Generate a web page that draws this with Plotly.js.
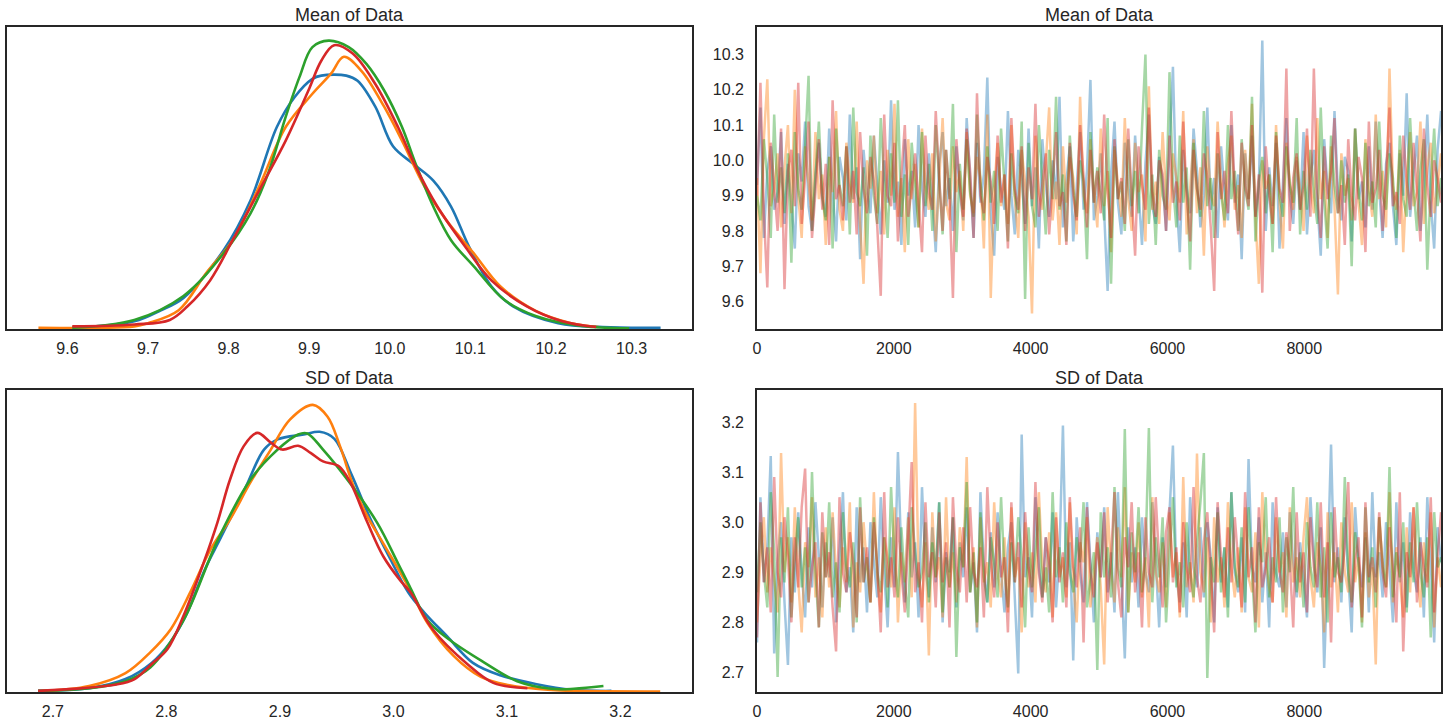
<!DOCTYPE html>
<html>
<head>
<meta charset="utf-8">
<script src="https://cdn.plot.ly/plotly-3.0.1.min.js"></script>
<style>html,body{margin:0;padding:0;background:#fff;}#chart{width:1448px;height:728px;}</style>
</head>
<body>
<div id="chart"></div>
<script>
// ---- Chain names and colours (tab10) ----
const chains = ["chain 0", "chain 1", "chain 2", "chain 3"];
const chainColors = ["#1f77b4", "#ff7f0e", "#2ca02c", "#d62728"];
const panelTitles = ["Mean of Data", "SD of Data"];

// ---- KDE of "Mean of Data" (value, density) per chain ----
const meanKdeX0 = [9.606,9.683,9.716,9.744,9.794,9.827,9.860,9.882,9.904,9.915,9.946,9.960,9.982,10.004,10.029,10.054,10.076,10.098,10.126,10.153,10.209,10.264,10.336];
const meanKdeY0 = [0.02,0.12,0.29,0.48,1.22,1.98,3.12,3.58,3.86,3.91,3.91,3.83,3.43,2.82,2.55,2.29,1.89,1.28,0.66,0.35,0.09,0.03,0.02];
const meanKdeX1 = [9.564,9.683,9.700,9.738,9.772,9.805,9.838,9.871,9.904,9.927,9.943,9.965,9.993,10.015,10.043,10.070,10.104,10.137,10.181,10.225,10.259];
const meanKdeY1 = [0.02,0.04,0.09,0.29,0.86,1.37,2.20,3.12,3.63,3.94,4.20,3.98,3.43,2.91,2.20,1.68,1.17,0.66,0.28,0.09,0.03];
const meanKdeX2 = [9.606,9.683,9.744,9.794,9.827,9.849,9.871,9.888,9.904,9.924,9.949,9.971,9.993,10.015,10.032,10.054,10.076,10.104,10.142,10.181,10.236,10.297];
const meanKdeY2 = [0.02,0.14,0.51,1.17,1.78,2.40,3.28,3.89,4.35,4.45,4.35,4.09,3.68,3.12,2.55,1.89,1.37,0.97,0.45,0.20,0.05,0.01];
const meanKdeX3 = [9.606,9.683,9.727,9.749,9.777,9.805,9.838,9.871,9.899,9.915,9.931,9.954,9.982,10.010,10.032,10.059,10.093,10.126,10.170,10.214,10.256];
const meanKdeY3 = [0.04,0.07,0.14,0.35,0.75,1.37,2.14,2.91,3.68,4.14,4.38,4.25,3.78,3.12,2.51,1.89,1.28,0.75,0.35,0.12,0.03];

// ---- KDE of "SD of Data" ----
const sdKdeX0 = [2.687,2.732,2.764,2.787,2.803,2.817,2.834,2.848,2.870,2.886,2.898,2.921,2.935,2.948,2.963,2.980,2.996,3.013,3.027,3.047,3.070,3.094,3.125,3.157,3.192];
const sdKdeY0 = [0.02,0.07,0.24,0.54,0.91,1.41,2.28,2.87,3.81,4.50,4.69,4.78,4.83,4.70,4.04,3.20,2.52,1.85,1.48,1.04,0.54,0.31,0.15,0.04,0.02];
const sdKdeX1 = [2.687,2.732,2.764,2.786,2.804,2.821,2.839,2.856,2.874,2.892,2.909,2.929,2.942,2.953,2.965,2.977,2.991,3.015,3.030,3.053,3.077,3.101,3.139,3.235];
const sdKdeY1 = [0.01,0.11,0.35,0.74,1.17,1.85,2.65,3.20,3.89,4.50,5.06,5.33,5.11,4.56,3.81,3.26,2.76,1.89,1.28,0.67,0.28,0.13,0.04,0.01];
const sdKdeX2 = [2.687,2.732,2.764,2.786,2.815,2.845,2.874,2.898,2.916,2.924,2.938,2.962,2.986,3.004,3.015,3.030,3.050,3.079,3.109,3.139,3.159,3.185];
const sdKdeY2 = [0.02,0.07,0.20,0.46,1.33,2.81,3.94,4.50,4.78,4.80,4.50,3.87,3.13,2.39,1.93,1.33,0.96,0.56,0.20,0.06,0.06,0.11];
const sdKdeX3 = [2.687,2.756,2.772,2.787,2.801,2.815,2.833,2.845,2.856,2.868,2.880,2.892,2.902,2.916,2.927,2.938,2.952,2.962,2.977,2.991,3.006,3.015,3.035,3.065,3.088,3.118];
const sdKdeY3 = [0.02,0.14,0.24,0.52,0.80,1.41,2.41,3.15,3.94,4.56,4.81,4.63,4.50,4.57,4.44,4.28,4.19,3.89,3.15,2.52,2.07,1.85,1.15,0.52,0.17,0.07];

// ---- Trace samples (thinned reading, one value every ~50 draws) ----
const drawStep = 50.25;
const meanTrace0 = [9.93,10.15,9.78,9.97,10.04,9.86,9.91,10.08,9.82,9.99,
9.88,9.75,10.02,9.94,10.11,9.87,9.80,9.96,10.05,9.90,
9.84,10.09,9.92,9.77,10.01,9.95,9.83,10.13,9.89,9.98,
9.72,10.03,9.91,9.85,10.07,9.93,9.79,10.00,9.88,10.17,
9.86,9.94,9.76,10.06,9.90,9.97,9.81,10.10,9.92,9.84,
10.02,9.89,9.74,9.99,10.08,9.87,9.95,9.80,10.04,9.91,
9.83,10.12,9.93,9.78,10.05,9.88,9.96,10.235,9.85,9.73,
10.01,9.92,9.86,10.14,9.90,9.79,10.03,9.95,9.82,10.09,
9.87,9.98,9.75,10.06,9.93,9.84,10.00,9.89,10.18,9.81,
9.94,10.04,9.77,9.91,10.08,9.86,9.97,10.228,9.83,9.90,
10.02,9.85,9.63,9.96,10.11,9.88,9.79,10.05,9.93,9.84,
10.07,9.91,9.76,9.99,10.13,9.87,9.82,10.01,9.94,9.80,
10.06,10.265,9.89,9.74,10.03,9.92,9.85,10.09,9.97,9.81,
9.90,10.15,9.86,9.95,9.78,10.04,9.91,9.83,10.10,9.88,
9.96,9.72,10.02,9.89,10.07,9.84,9.93,10.34,9.80,9.98,
9.87,10.05,9.75,9.94,10.12,9.90,9.82,10.00,9.86,10.08,
9.79,9.95,10.03,9.88,9.73,10.06,9.92,9.85,10.14,9.91,
9.83,10.01,9.97,9.77,10.09,9.89,9.94,9.81,10.04,9.86,
10.11,9.92,9.78,9.99,10.05,9.87,9.76,10.02,9.90,10.19,
9.84,9.96,10.07,9.80,9.93,10.13,9.88,9.75,10.03,10.14];
const meanTrace1 = [9.95,9.68,10.06,10.23,9.87,9.92,10.02,9.81,9.98,10.10,
9.85,10.20,9.90,9.78,10.04,9.93,9.83,10.08,9.89,9.96,
9.76,10.01,9.91,10.14,9.86,9.80,10.05,9.94,9.88,10.11,
9.82,9.65,10.00,9.92,10.07,9.85,9.97,9.79,10.03,9.90,
10.16,9.84,9.95,9.74,10.06,9.89,9.99,9.81,10.09,9.93,
9.86,10.02,9.77,9.94,10.12,9.88,9.83,10.04,9.91,9.97,
9.80,10.08,9.90,9.85,10.01,9.95,9.75,10.13,9.61,9.92,
10.05,9.87,9.96,9.82,10.10,9.89,9.78,10.03,9.93,9.84,
9.566,10.07,9.91,9.86,9.99,10.15,9.83,9.94,9.76,10.04,
9.88,10.01,9.95,9.79,10.18,9.90,9.85,10.06,9.92,9.81,
10.09,9.87,9.97,9.74,10.03,9.93,9.84,10.12,9.89,9.80,
10.05,9.91,9.96,9.77,10.21,9.86,9.94,9.82,10.08,9.90,
9.83,10.02,9.95,9.88,10.14,9.79,9.92,10.06,9.85,9.98,
9.73,10.04,9.90,9.87,10.11,9.94,9.81,9.99,10.07,9.86,
9.93,9.78,10.03,9.89,10.16,9.84,9.65,10.00,9.92,9.96,
9.82,10.10,9.88,9.75,10.05,9.94,9.86,10.01,9.91,9.80,
10.07,9.93,9.85,10.12,9.89,9.97,9.78,10.04,9.87,9.62,
10.02,9.90,9.95,9.83,10.09,9.88,9.76,10.06,9.92,9.84,
10.13,9.89,9.97,9.81,10.26,9.93,9.86,10.03,9.74,9.95,
10.08,9.87,9.91,10.11,9.82,9.98,10.05,9.85,9.93,10.02];
const meanTrace2 = [9.90,9.83,10.06,9.95,9.78,10.13,9.88,9.98,9.85,10.02,
9.71,10.08,9.92,9.86,10.04,10.24,9.80,9.96,10.11,9.89,
9.83,10.01,9.75,10.09,9.93,9.87,10.04,9.79,10.15,9.91,
9.87,9.98,9.73,10.07,9.90,9.82,10.12,9.94,9.78,10.02,
9.88,10.17,9.84,9.96,9.76,10.05,9.92,9.81,10.08,9.87,
9.99,9.80,10.10,9.95,9.79,10.03,9.89,10.16,9.74,9.99,
9.86,10.06,9.91,9.84,10.13,9.94,9.83,10.04,9.88,9.97,
9.80,10.09,9.93,9.77,10.02,9.90,9.85,10.11,9.607,10.05,
9.87,9.81,10.10,9.95,9.79,10.03,9.89,10.18,9.86,9.96,
9.77,10.07,9.92,9.84,10.00,9.94,9.72,10.08,9.88,9.98,
9.91,9.83,10.12,9.65,10.04,9.89,9.94,9.80,10.06,9.87,
9.97,9.85,10.09,10.30,9.82,9.96,9.76,10.03,9.90,9.86,
10.25,9.93,9.81,10.07,9.88,9.98,9.69,10.05,9.92,9.84,
10.14,9.87,9.95,9.78,10.02,9.91,9.83,10.10,9.89,9.97,
9.80,10.06,9.92,9.86,10.18,9.77,9.94,10.01,9.85,9.96,
9.74,10.08,9.90,9.84,10.04,9.93,9.88,10.12,9.79,9.97,
9.86,10.03,9.91,9.82,10.15,9.89,9.75,10.07,9.93,9.85,
10.00,9.88,9.96,9.70,10.09,9.92,9.83,10.05,9.87,9.94,
9.81,10.11,9.90,9.86,10.02,9.95,9.78,10.07,9.89,9.84,
10.12,9.92,9.80,9.97,10.06,9.69,9.93,10.09,9.87,9.95];
const meanTrace3 = [9.90,10.22,9.85,9.64,10.05,9.93,9.80,10.09,9.635,9.97,
10.03,9.87,10.22,9.82,9.95,10.11,9.78,9.91,10.06,9.86,
9.99,9.76,10.17,9.89,9.93,9.83,10.04,9.88,9.97,9.79,
10.08,9.92,9.85,10.01,9.94,9.81,9.616,10.13,9.90,9.87,
10.05,9.77,9.96,10.10,9.84,9.92,10.02,9.88,9.74,10.07,
9.91,9.86,10.14,9.95,9.80,10.03,9.89,9.61,10.06,9.93,
9.84,10.09,9.97,9.78,10.19,9.90,9.85,10.01,9.94,9.82,
10.07,9.88,9.96,9.75,10.12,9.92,9.86,10.04,9.80,9.98,
9.89,10.16,9.84,9.93,10.02,9.79,9.95,10.08,9.87,9.91,
9.76,10.05,9.90,9.83,10.10,9.94,9.81,10.03,9.88,9.97,
9.85,10.13,9.92,9.78,10.06,9.89,9.95,9.82,10.09,9.90,
9.73,10.04,9.93,9.86,10.15,9.91,9.84,10.00,9.96,9.80,
10.07,9.88,9.94,9.83,10.11,9.90,9.77,10.03,9.92,9.86,
10.02,9.95,9.81,9.63,10.08,9.89,9.97,9.85,10.14,9.91,
9.79,10.05,9.93,9.87,10.10,9.84,9.96,9.625,10.04,9.90,
9.82,10.07,9.92,9.88,10.26,9.80,9.95,10.02,9.86,9.93,
10.09,9.84,10.26,9.91,9.78,10.04,9.89,9.97,10.12,9.85,
9.93,9.76,10.06,9.90,9.83,10.01,9.95,9.74,10.11,9.88,
9.92,10.03,9.80,9.96,10.15,9.87,9.91,9.82,10.07,9.94,
9.86,10.05,9.90,9.77,10.09,9.93,9.84,10.00,9.95,9.88];

const sdTrace0 = [2.76,3.05,2.88,2.95,3.132,2.738,2.92,3.00,2.84,2.715,
2.97,2.86,3.02,2.90,2.81,2.99,2.87,3.04,2.93,2.83,
2.96,2.89,3.01,2.80,2.94,3.06,2.86,2.91,2.78,3.03,
2.88,2.95,2.82,3.00,2.92,2.85,3.05,2.90,2.79,2.97,
2.87,3.14,2.93,2.84,3.02,2.89,2.96,2.81,3.07,2.91,
2.85,2.99,2.88,3.04,2.80,2.94,2.90,3.01,2.83,2.96,
2.89,3.03,2.86,2.92,2.78,3.06,2.91,2.84,2.98,2.87,
3.02,2.90,2.82,2.95,3.00,2.86,2.698,3.175,2.89,2.93,
2.81,3.05,2.91,2.85,2.97,2.88,3.02,2.83,2.94,3.193,
2.87,2.96,2.724,3.01,2.90,2.84,3.04,2.92,2.80,2.98,
2.89,3.03,2.86,2.94,2.82,3.06,2.91,2.728,2.99,2.88,
2.95,2.83,3.01,2.90,2.86,3.04,2.92,2.79,2.97,2.87,
3.02,3.153,2.89,2.84,2.96,2.81,3.05,2.91,2.87,2.99,
2.85,3.00,2.93,2.80,3.03,2.88,2.95,2.83,3.06,2.90,
2.86,2.97,2.82,3.126,2.91,2.88,3.01,2.84,2.94,2.79,
3.04,2.90,2.87,2.98,2.83,3.02,2.92,2.85,2.96,2.89,
2.81,3.05,2.93,2.86,2.99,2.709,2.91,3.155,2.88,2.95,
2.84,3.01,2.90,2.78,3.03,2.92,2.87,2.97,2.82,3.06,
2.89,2.94,2.85,3.00,2.91,2.80,3.04,2.88,2.96,2.83,
3.02,2.90,2.86,2.97,2.81,3.05,2.92,2.76,2.99,2.92];
const sdTrace1 = [2.80,2.93,3.01,2.86,2.95,2.89,2.82,3.138,2.90,2.97,
2.84,3.03,2.88,2.78,2.96,2.91,3.05,2.85,2.93,2.81,
2.99,2.87,3.02,2.90,2.83,2.95,2.88,3.04,2.79,2.92,
2.86,3.00,2.91,2.84,3.06,2.89,2.82,2.97,2.93,2.87,
3.03,2.80,2.94,2.88,3.01,2.85,3.238,2.90,2.83,2.96,
2.734,3.02,2.89,2.93,2.81,3.05,2.87,2.94,2.84,2.99,
2.91,3.13,2.86,2.95,2.79,3.01,2.88,2.92,2.83,3.04,
2.90,2.85,2.97,2.82,3.03,2.89,2.93,2.78,3.00,2.87,
2.94,2.84,3.06,2.91,2.86,2.98,2.81,3.02,2.89,2.93,
2.85,3.04,2.88,2.80,2.96,2.92,3.01,2.83,2.90,2.97,
2.87,2.716,3.03,2.91,2.84,2.99,2.89,3.07,2.82,2.94,
2.88,3.00,2.85,2.93,2.79,3.05,2.90,2.86,2.96,2.83,
3.02,2.89,2.94,2.81,3.09,2.87,2.92,2.84,3.137,2.90,
2.86,2.97,2.80,3.01,2.88,2.93,2.83,3.04,2.91,2.85,
2.95,2.82,3.03,2.89,2.86,2.98,2.79,3.06,2.92,2.87,
2.84,3.01,2.90,2.94,2.81,3.03,2.88,2.93,2.85,2.97,
3.05,2.89,2.83,2.96,2.91,2.78,3.02,2.87,2.94,2.82,
3.00,2.90,2.86,3.04,2.88,2.93,2.80,2.98,2.85,2.91,
2.716,3.01,2.92,2.87,3.06,2.84,2.95,2.89,2.81,2.99,
2.86,3.03,2.90,2.83,2.96,2.88,3.02,2.79,2.93,2.87];
const sdTrace2 = [2.86,3.00,2.90,2.83,3.06,2.94,2.691,2.97,2.88,3.03,
2.81,2.93,3.01,2.87,2.95,2.84,3.10,2.90,2.79,2.98,
2.89,3.04,2.85,2.92,2.82,3.02,2.91,2.87,2.96,2.80,
3.05,2.88,2.93,2.84,3.01,2.90,2.86,2.97,2.83,3.07,
2.92,2.85,2.99,2.88,2.81,3.03,2.94,2.87,2.90,3.00,
2.84,2.96,2.89,3.04,2.82,2.93,2.87,3.01,2.731,2.95,
2.91,3.08,2.86,2.94,2.80,3.02,2.89,2.84,2.97,2.92,
2.85,3.05,2.90,2.83,2.96,2.88,3.01,2.93,2.79,2.99,
2.87,2.94,3.03,2.85,2.91,2.82,3.06,2.89,2.95,2.84,
3.00,2.90,2.86,2.97,2.92,3.04,2.83,2.88,2.94,2.705,
3.02,2.89,2.95,2.85,3.07,2.91,2.87,3.186,2.82,2.98,
2.90,3.03,2.86,2.93,3.188,2.84,2.97,2.89,3.01,2.80,
2.94,3.05,2.87,2.92,2.83,3.00,2.90,2.85,2.96,3.04,
3.138,2.689,2.93,2.88,3.02,2.86,2.95,2.81,3.06,2.91,
2.87,2.99,2.84,3.03,2.90,2.78,2.96,2.92,3.05,2.85,
2.93,2.88,3.01,2.82,2.97,2.90,3.07,2.86,2.94,2.83,
3.00,2.91,2.87,3.04,2.85,2.95,2.80,3.02,2.89,2.93,
2.86,3.09,2.90,2.84,2.98,2.92,2.79,3.03,2.88,2.95,
2.83,3.01,2.91,2.87,3.11,2.85,2.94,2.89,3.00,2.82,
2.96,2.88,3.04,2.90,2.85,2.97,2.77,3.02,2.91,2.93];
const sdTrace3 = [2.77,3.04,2.88,2.95,2.82,3.09,2.90,2.85,3.01,2.93,
2.80,2.97,2.87,3.03,3.107,2.84,2.91,2.96,2.79,3.02,
2.89,2.94,2.83,2.742,3.05,2.90,2.86,2.98,2.92,2.81,
3.03,2.88,2.95,2.84,3.00,2.91,2.78,3.06,2.87,2.93,
2.85,3.01,2.90,2.82,2.97,3.12,2.86,2.92,2.80,3.04,
2.89,2.94,2.83,3.02,2.88,2.96,2.79,3.05,2.91,2.86,
2.99,2.84,3.03,2.90,2.87,2.95,2.81,3.07,2.92,2.85,
3.00,2.89,2.93,2.78,3.04,2.88,2.96,2.83,3.02,2.91,
2.86,3.08,2.90,2.84,2.97,2.92,2.80,3.01,2.88,2.94,
2.83,3.05,2.91,2.87,2.99,2.76,3.03,2.90,2.85,2.96,
2.89,3.02,2.84,2.93,3.06,2.88,2.81,2.97,2.91,3.04,
2.86,2.94,2.79,3.01,2.90,2.87,3.05,2.92,2.83,2.98,
3.03,2.88,2.95,2.82,3.00,2.91,2.86,3.07,2.89,2.84,
2.96,3.02,2.90,2.78,3.04,2.93,2.85,2.99,2.88,3.01,
2.92,2.83,3.06,2.89,2.95,2.80,3.03,2.87,2.91,2.97,
2.84,3.05,2.90,2.86,2.98,2.92,2.79,3.02,2.88,2.94,
2.82,3.01,2.91,2.87,3.04,2.85,2.96,2.76,3.03,2.90,
2.88,2.95,3.08,2.83,2.92,2.97,2.81,3.04,2.89,2.93,
2.86,3.02,2.90,2.85,2.99,2.91,2.80,3.06,2.742,2.94,
2.89,3.03,2.84,2.96,2.91,2.87,3.05,2.82,2.93,3.02];

// ---- Axis tick values ----
const meanTicks = [9.6, 9.7, 9.8, 9.9, 10.0, 10.1, 10.2, 10.3];
const sdTicks = [2.7, 2.8, 2.9, 3.0, 3.1, 3.2];
const drawTicks = [0, 2000, 4000, 6000, 8000];

// ---- Build traces ----
const meanKde = [[meanKdeX0, meanKdeY0],[meanKdeX1, meanKdeY1],[meanKdeX2, meanKdeY2],[meanKdeX3, meanKdeY3]];
const sdKde = [[sdKdeX0, sdKdeY0],[sdKdeX1, sdKdeY1],[sdKdeX2, sdKdeY2],[sdKdeX3, sdKdeY3]];
const meanTr = [meanTrace0, meanTrace1, meanTrace2, meanTrace3];
const sdTr = [sdTrace0, sdTrace1, sdTrace2, sdTrace3];

const data = [];
chains.forEach((c, i) => {
  data.push({x: meanKde[i][0], y: meanKde[i][1], xaxis: 'x', yaxis: 'y', type: 'scatter', mode: 'lines',
    name: c, line: {color: chainColors[i], width: 2.6, shape: 'spline', smoothing: 1}, showlegend: false, hoverinfo: 'skip'});
});
chains.forEach((c, i) => {
  data.push({x: meanTr[i].map((v, k) => k * drawStep), y: meanTr[i], xaxis: 'x2', yaxis: 'y2', type: 'scatter', mode: 'lines',
    name: c, opacity: 0.42, line: {color: chainColors[i], width: 2.5}, showlegend: false, hoverinfo: 'skip'});
});
chains.forEach((c, i) => {
  data.push({x: sdKde[i][0], y: sdKde[i][1], xaxis: 'x3', yaxis: 'y3', type: 'scatter', mode: 'lines',
    name: c, line: {color: chainColors[i], width: 2.6, shape: 'spline', smoothing: 1}, showlegend: false, hoverinfo: 'skip'});
});
chains.forEach((c, i) => {
  data.push({x: sdTr[i].map((v, k) => k * drawStep), y: sdTr[i], xaxis: 'x4', yaxis: 'y4', type: 'scatter', mode: 'lines',
    name: c, opacity: 0.42, line: {color: chainColors[i], width: 2.5}, showlegend: false, hoverinfo: 'skip'});
});

const W = 1448, H = 728;
const dom = (a, b, n) => [a / n, b / n];
const ydom = (top, bottom) => [1 - bottom / H, 1 - top / H];
const frame = {showline: true, mirror: true, linecolor: '#262626', linewidth: 1.8, showgrid: false, zeroline: false,
  tickfont: {family: 'Liberation Sans, Arial, sans-serif', size: 16, color: '#262626'}, ticks: ''};
const fx = Object.assign({}, frame, {ticklabelstandoff: 4});
const fy = Object.assign({}, frame, {ticklabelstandoff: 8});

const layout = {
  width: W, height: H,
  margin: {l: 0, r: 0, t: 0, b: 0},
  paper_bgcolor: '#ffffff', plot_bgcolor: '#ffffff',
  showlegend: false,
  xaxis: Object.assign({}, fx, {domain: dom(7, 692, W), range: [9.525, 10.375], tickvals: meanTicks, tickformat: '.1f', anchor: 'y'}),
  yaxis: Object.assign({}, fy, {domain: ydom(27, 329), range: [0, 4.66], showticklabels: false, anchor: 'x'}),
  xaxis2: Object.assign({}, fx, {domain: dom(757, 1441, W), range: [0, 9999], tickvals: drawTicks, tickformat: 'd', anchor: 'y2'}),
  yaxis2: Object.assign({}, fy, {domain: ydom(27, 329), range: [9.522, 10.378], tickvals: meanTicks, tickformat: '.1f', anchor: 'x2'}),
  xaxis3: Object.assign({}, fx, {domain: dom(7, 692, W), range: [2.6596, 3.263], tickvals: sdTicks, tickformat: '.1f', anchor: 'y3'}),
  yaxis3: Object.assign({}, fy, {domain: ydom(390, 692), range: [0, 5.606], showticklabels: false, anchor: 'x3'}),
  xaxis4: Object.assign({}, fx, {domain: dom(757, 1441, W), range: [0, 9999], tickvals: drawTicks, tickformat: 'd', anchor: 'y4'}),
  yaxis4: Object.assign({}, fy, {domain: ydom(390, 692), range: [2.661, 3.264], tickvals: sdTicks, tickformat: '.1f', anchor: 'x4'}),
  annotations: [
    {text: panelTitles[0], x: (7 + 692) / 2 / W, y: 1 - 15 / H},
    {text: panelTitles[0], x: (757 + 1441) / 2 / W, y: 1 - 15 / H},
    {text: panelTitles[1], x: (7 + 692) / 2 / W, y: 1 - 378 / H},
    {text: panelTitles[1], x: (757 + 1441) / 2 / W, y: 1 - 378 / H}
  ].map(a => Object.assign(a, {xref: 'paper', yref: 'paper', showarrow: false, xanchor: 'center', yanchor: 'middle',
    font: {family: 'Liberation Sans, Arial, sans-serif', size: 18, color: '#262626'}}))
};

Plotly.newPlot('chart', data, layout, {staticPlot: true, displayModeBar: false});
</script>
</body>
</html>
